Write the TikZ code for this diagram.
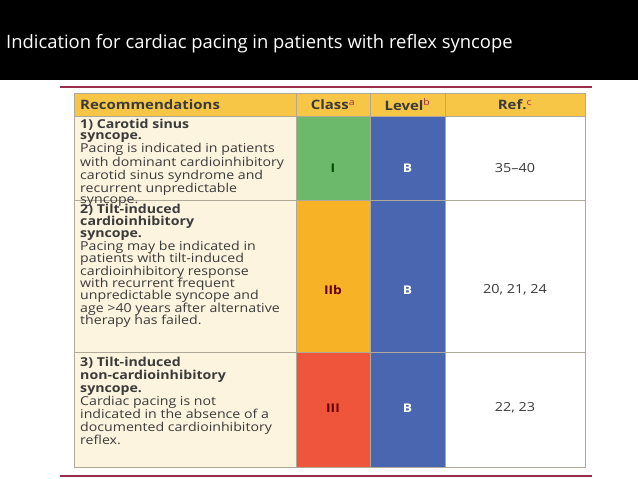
\documentclass[tikz,border=0pt]{standalone}
\usepackage{fontspec}
\setmainfont{Open Sans}
\definecolor{gold}{HTML}{F7C646}
\definecolor{cream}{HTML}{FDF4DF}
\definecolor{cgreen}{HTML}{6DB96B}
\definecolor{corange}{HTML}{F7B225}
\definecolor{cred}{HTML}{EE553A}
\definecolor{cblue}{HTML}{4A66B0}
\definecolor{grid}{HTML}{B0A898}
\definecolor{dred}{HTML}{9C2C4C}
\definecolor{txt}{HTML}{3A3A3A}
\begin{document}
\begin{tikzpicture}[x=1pt,y=-1pt,
  sx/.style={transform shape,xscale=1.15,inner sep=0pt},
  rec/.style={sx,anchor=north west,align=left,text=txt,font=\fontsize{12.3}{#1}\selectfont},
  hd/.style={sx,font=\fontsize{13}{13}\selectfont\bfseries,text=txt},
  cell/.style={sx,font=\fontsize{12.5}{12}\selectfont,text=txt},
  cls/.style={sx,font=\bfseries\fontsize{12}{12}\selectfont}]
\useasboundingbox (0,0) rectangle (638,479);
\fill[white] (0,0) rectangle (638,479);
\fill[black] (0,0) rectangle (638,80);
\node[anchor=west,inner sep=0pt,text=white,font=\fontsize{18.4}{20}\selectfont] (title) at (6,44) {Indication for cardiac pacing in patients with reflex syncope};
\fill[dred] (60,85.5) rectangle (592,87.5);
\fill[dred] (60,475) rectangle (592,477);
% backgrounds
\fill[gold] (74,93) rectangle (585,116);
\fill[cream] (74,116) rectangle (296,467);
\fill[cgreen] (296,116) rectangle (370,200);
\fill[corange] (296,200) rectangle (370,352);
\fill[cred] (296,352) rectangle (370,467);
\fill[cblue] (370,116) rectangle (445,467);
\draw[grid,line width=0.8pt] (74,93) rectangle (585,467);
\draw[grid,line width=0.6pt] (74,116) -- (585,116) (74,200) -- (585,200) (74,352) -- (585,352);
\draw[grid,line width=0.6pt] (296,93) -- (296,467) (370,93) -- (370,467) (445,93) -- (445,467);
% header
\node[hd,anchor=west] (h1) at (80,104.5) {Recommendations};
\node[hd] (h2) at (333,104.5) {Class\textsuperscript{\color{dred}\mdseries a}};
\node[hd] (h3) at (407.5,104.5) {Level\textsuperscript{\color{dred}\mdseries b}};
\node[hd] (h4) at (515,104.5) {Ref.\textsuperscript{\color{dred}\mdseries c}};
% rows
\node[rec=11] (r1) at (80,119) {\textbf{1) Carotid sinus}\\\textbf{syncope.}\\Pacing is indicated in patients\\with dominant cardioinhibitory\\carotid sinus syndrome and\\recurrent unpredictable\\syncope.};
\node[rec=12.4] (r2) at (80,203.5) {\textbf{2) Tilt-induced}\\\textbf{cardioinhibitory}\\\textbf{syncope.}\\Pacing may be indicated in\\patients with tilt-induced\\cardioinhibitory response\\with recurrent frequent\\unpredictable syncope and\\age >40 years after alternative\\therapy has failed.};
\node[rec=13] (r3) at (80,357) {\textbf{3) Tilt-induced}\\\textbf{non-cardioinhibitory}\\\textbf{syncope.}\\Cardiac pacing is not\\indicated in the absence of a\\documented cardioinhibitory\\reflex.};
\node[cls,text=black!70!green] (c1) at (333,168) {I};
\node[cls,text=black!60!red] (c2) at (333,290) {IIb};
\node[cls,text=black!60!red] (c3) at (333,408) {III};
\node[cls,text=white] (l1) at (407.5,168) {B};
\node[cls,text=white] (l2) at (407.5,290) {B};
\node[cls,text=white] (l3) at (407.5,408) {B};
\node[cell] (f1) at (515,168) {35--40};
\node[cell] (f2) at (515,290) {20, 21, 24};
\node[cell] (f3) at (515,408) {22, 23};
\end{tikzpicture}
\end{document}
